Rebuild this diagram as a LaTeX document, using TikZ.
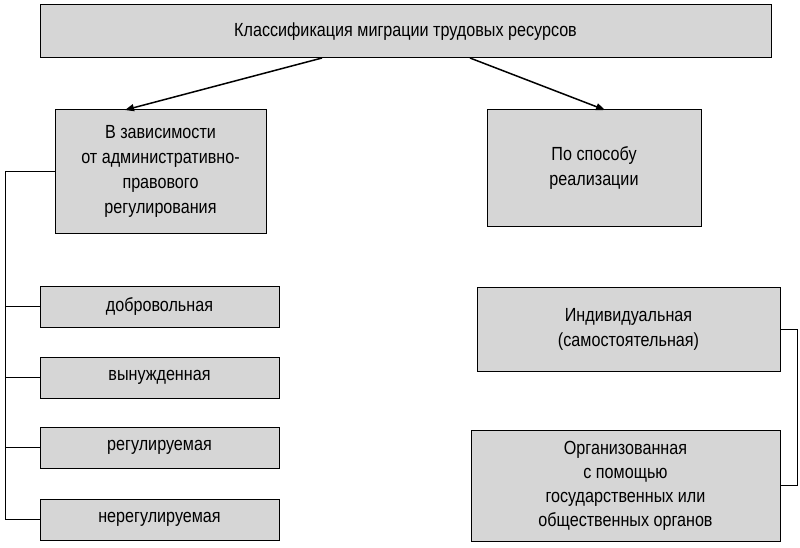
\documentclass[tikz,border=0pt]{standalone}
\usepackage{fontspec}
\setmainfont{Liberation Sans}[FakeStretch=0.85]
\usetikzlibrary{arrows.meta}
\begin{document}
\begin{tikzpicture}[x=1pt,y=-1pt,
 bx/.style={draw=black,line width=1pt,fill=gray!32,align=center,font=\fontsize{19}{25}\selectfont},
 ln/.style={line width=1pt},
 ar/.style={line width=1.5pt,-{Triangle[length=9pt,width=7pt]}}]
\useasboundingbox (0,0) rectangle (800,548);
\fill[white] (0,0) rectangle (800,548);
\node[bx,minimum width=731,minimum height=53] (top) at (405.5,31.5) {Классификация миграции трудовых ресурсов};
\node[bx,minimum width=211,minimum height=123,inner sep=1pt] (l) at (160.5,171.5) {В зависимости\\от административно-\\правового\\регулирования};
\node[bx,minimum width=214,minimum height=116] (r) at (594,168) {По способу\\реализации};
\foreach \n/\y/\t in {a/306.5/добровольная,b/377.5/вынужденная,c/447.5/регулируемая,d/519.5/нерегулируемая}
  \node[bx,minimum width=239,minimum height=41] (\n) at (159.5,\y) {\t};
\node[bx,minimum width=303,minimum height=84] (r1) at (628.5,329) {Индивидуальная\\(самостоятельная)};
\node[bx,minimum width=309,minimum height=111,inner sep=1pt,font=\fontsize{19}{24}\selectfont] (r2) at (625.5,485.5) {Организованная\\с помощью\\государственных или\\общественных органов};
\coordinate (s1) at (322,58); \coordinate (s2) at (470,58);
\draw[ar] (s1) -- (125,110);
\draw[ar] (s2) -- (605,110);
\coordinate (lx) at (5,0);
\draw[ln] (l.west) -- (l.west -| lx) -- (d.west -| lx) -- (d.west);
\foreach \n in {a,b,c} \draw[ln] (\n.west -| lx) -- (\n.west);
\coordinate (rx) at (797,0);
\draw[ln] (r1.east) -- (r1.east -| rx) -- (r2.east -| rx) -- (r2.east);
\end{tikzpicture}
\end{document}
